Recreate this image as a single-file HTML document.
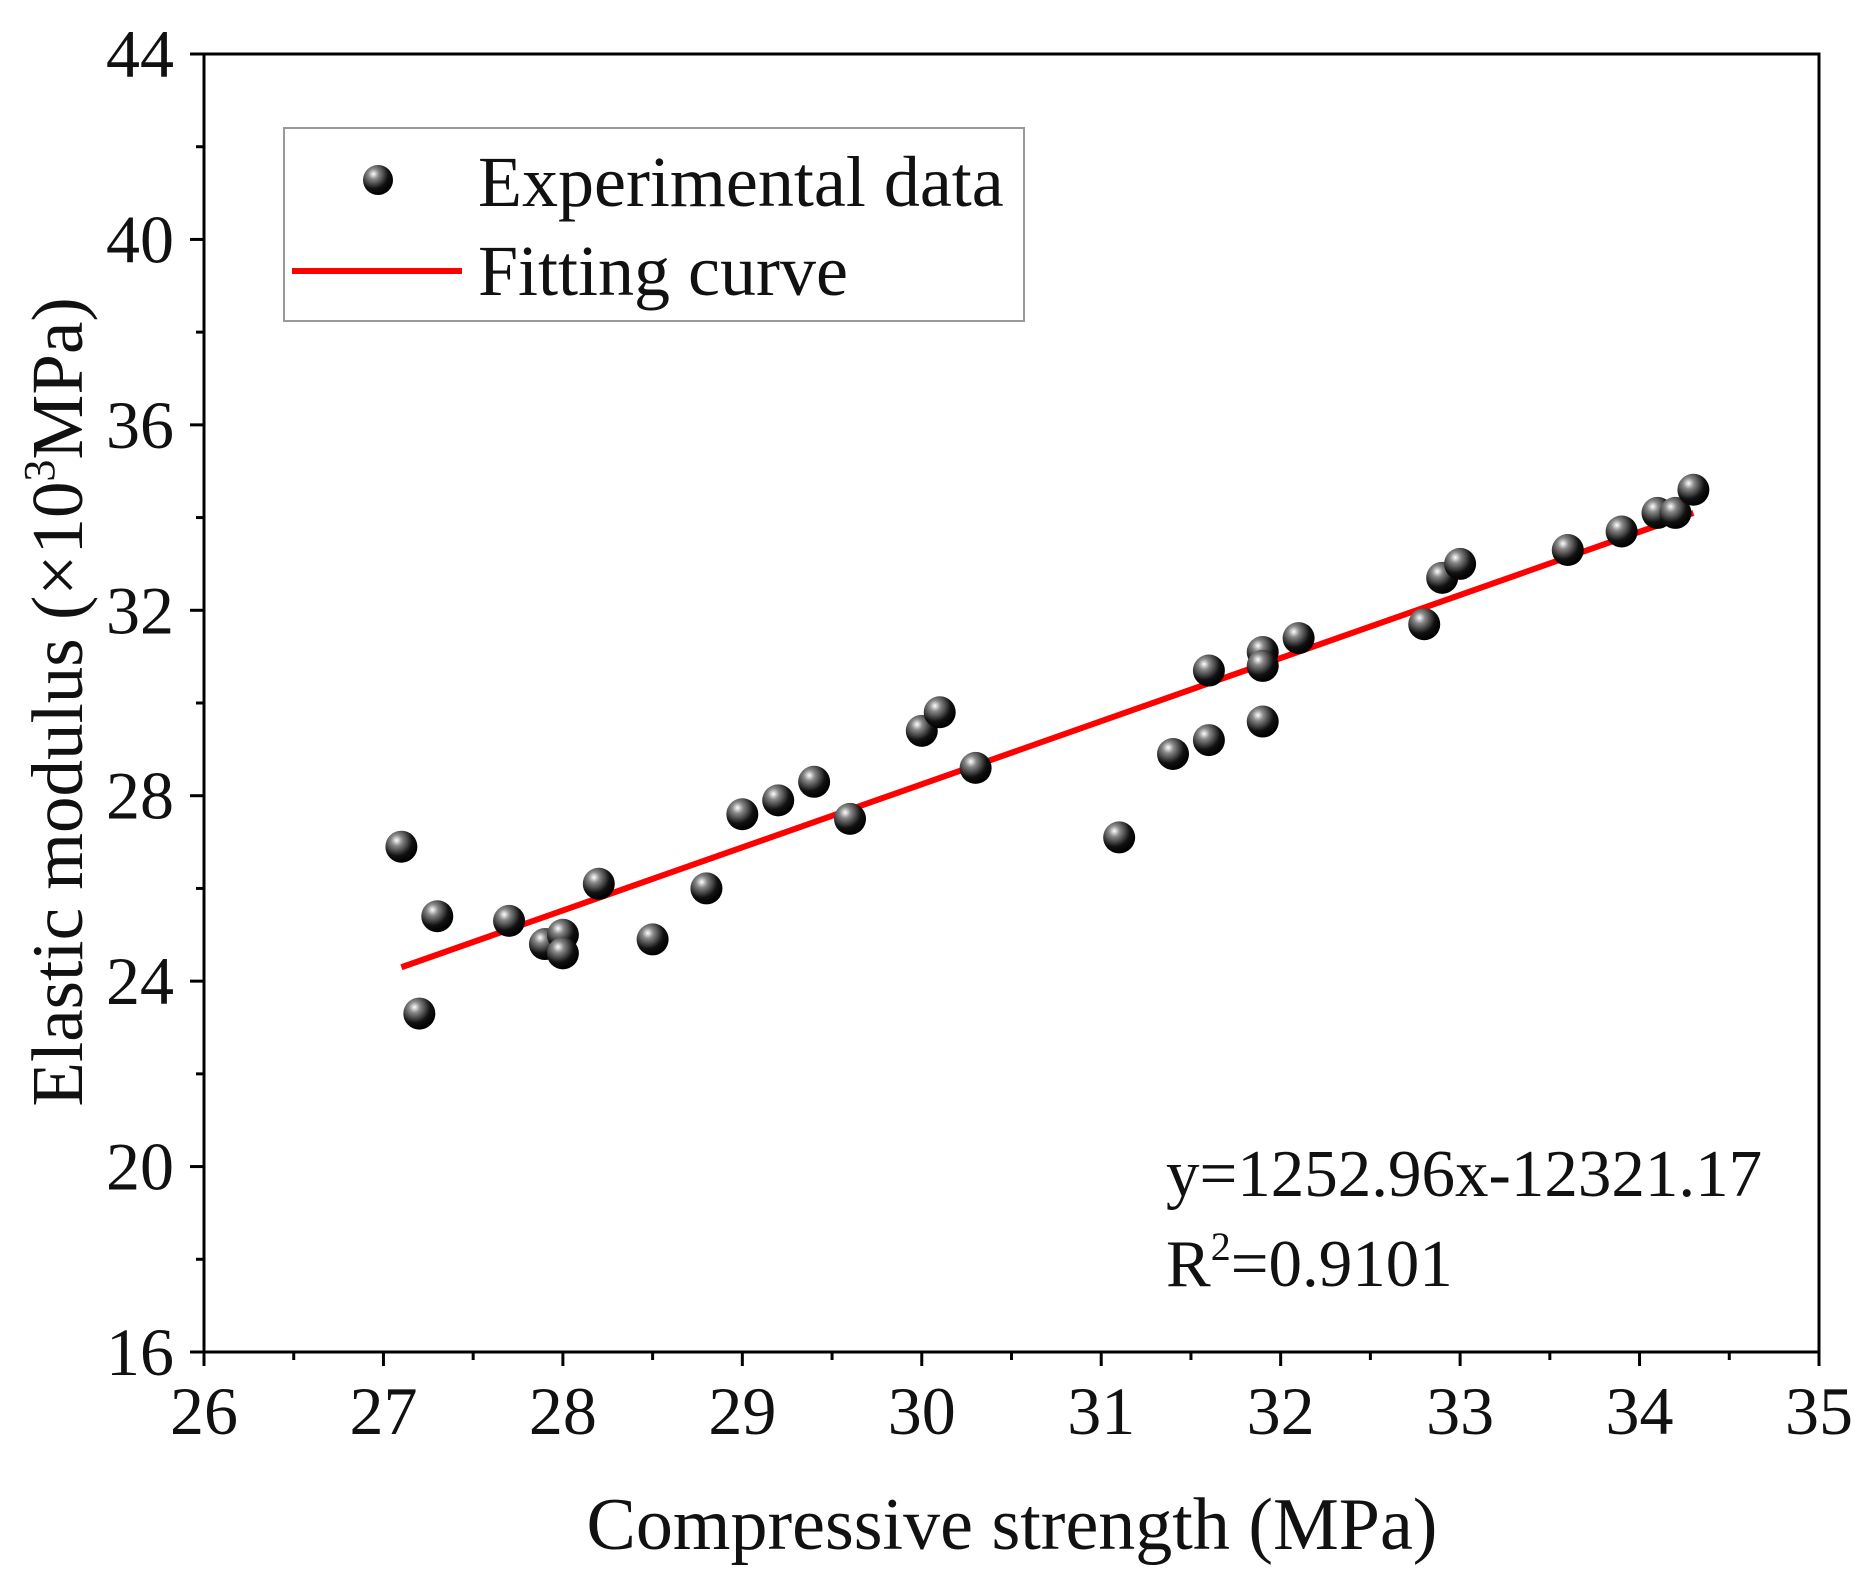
<!DOCTYPE html>
<html><head><meta charset="utf-8"><style>
body{margin:0;background:#fff}
svg text{font-family:"Liberation Serif",serif;fill:#111}
</style></head><body>
<svg id="chart" width="1873" height="1588" xmlns="http://www.w3.org/2000/svg">
<defs>
<radialGradient id="ball" cx="0.35" cy="0.3" r="0.7">
<stop offset="0" stop-color="#fff"/><stop offset="0.25" stop-color="#888"/><stop offset="0.7" stop-color="#111"/><stop offset="1" stop-color="#000"/>
</radialGradient>
</defs>
<g id="axes"></g>
<g id="marks"></g>
<g>
<rect x="284" y="128" width="740" height="193" fill="#fff" stroke="#999" stroke-width="2"/>
<circle cx="378" cy="180" r="15" fill="url(#ball)"/>
<text x="478" y="206" font-size="72">Experimental data</text>
<line x1="292" y1="271" x2="462" y2="271" stroke="#f00" stroke-width="6"/>
<text x="478" y="295" font-size="72">Fitting curve</text>
</g>
<text x="1166" y="1196" font-size="67">y=1252.96x-12321.17</text>
<text x="1166" y="1286" font-size="67">R<tspan font-size="40" dy="-26">2</tspan><tspan dy="26">=0.9101</tspan></text>
<text x="1012" y="1549" font-size="74" text-anchor="middle">Compressive strength (MPa)</text>
<text transform="translate(82,702) rotate(-90)" font-size="73" text-anchor="middle">Elastic modulus (×10<tspan font-size="44" dy="-28">3</tspan><tspan dy="28">MPa)</tspan></text>
</svg>
<script>
const xVals=[27.1,27.2,27.3,27.7,27.9,28.0,28.0,28.2,28.5,28.8,29.0,29.2,29.4,29.6,30.0,30.1,30.3,31.1,31.4,31.6,31.6,31.9,31.9,31.9,32.1,32.8,32.9,33.0,33.6,33.9,34.1,34.2,34.3];
const yVals=[26.9,23.3,25.4,25.3,24.8,25.0,24.6,26.1,24.9,26.0,27.6,27.9,28.3,27.5,29.4,29.8,28.6,27.1,28.9,29.2,30.7,29.6,31.1,30.8,31.4,31.7,32.7,33.0,33.3,33.7,34.1,34.1,34.6];
const fitX=[27.1,34.3];
const fitY=[24.3,34.1];
const xTicks=[26,27,28,29,30,31,32,33,34,35];
const yTicks=[16,20,24,28,32,36,40,44];
const L=204,R=1819,T=54,B=1352;
const sx=v=>L+(v-26)/9*(R-L);
const sy=v=>B-(v-16)/28*(B-T);
const NS="http://www.w3.org/2000/svg";
const ax=document.getElementById('axes'),mk=document.getElementById('marks');
function mkEl(t,a,p){const e=document.createElementNS(NS,t);for(const k in a)e.setAttribute(k,a[k]);p.appendChild(e);return e;}
const frame=mkEl('rect',{x:L,y:T,width:R-L,height:B-T,fill:'none',stroke:'#000','stroke-width':3},ax);


xTicks.forEach((t,i)=>{
 const x=sx(t);
 const tk=mkEl('line',{x1:x,y1:B,x2:x,y2:B+14,stroke:'#000','stroke-width':3},ax);
 
 
 if(i<xTicks.length-1){const m=mkEl('line',{x1:sx(t+0.5),y1:B,x2:sx(t+0.5),y2:B+8,stroke:'#000','stroke-width':3},ax);
 
 }
 const lb=mkEl('text',{x:x,y:B+82,'font-size':68,'text-anchor':'middle'},ax);lb.textContent=t;
 
 
});
yTicks.forEach((t,i)=>{
 const y=sy(t);
 const tk=mkEl('line',{x1:L-14,y1:y,x2:L,y2:y,stroke:'#000','stroke-width':3},ax);
 
 
 if(i<yTicks.length-1){const m=mkEl('line',{x1:L-8,y1:sy(t+2),x2:L,y2:sy(t+2),stroke:'#000','stroke-width':3},ax);
 
 }
 const lb=mkEl('text',{x:L-30,y:y+23,'font-size':68,'text-anchor':'end'},ax);lb.textContent=t;
 
 
});
const fl=mkEl('line',{x1:sx(fitX[0]),y1:sy(fitY[0]),x2:sx(fitX[1]),y2:sy(fitY[1]),stroke:'#f00','stroke-width':6},mk);


xVals.forEach((v,i)=>{
 const c=mkEl('circle',{cx:sx(v),cy:sy(yVals[i]),r:16,fill:'url(#ball)'},mk);
 
 
});
</script>
</body></html>
